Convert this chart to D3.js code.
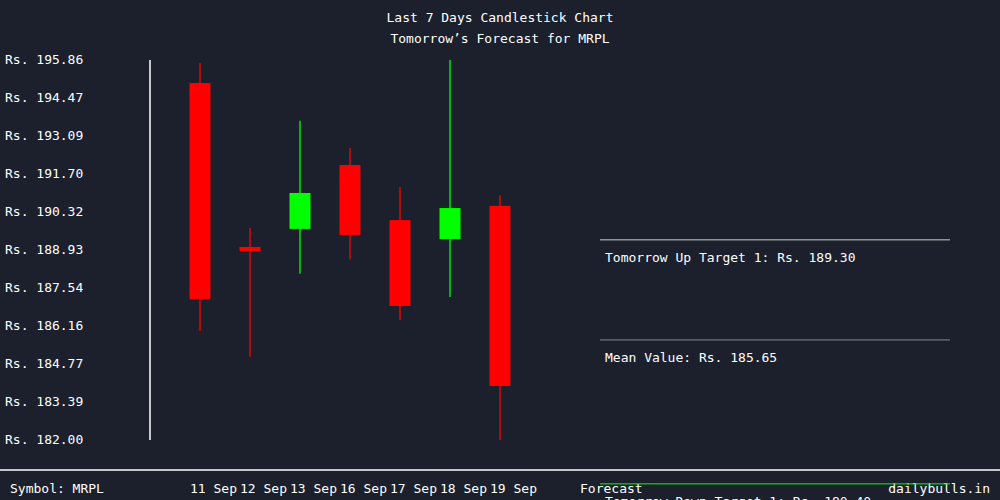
<!DOCTYPE html>
<html>
<head>
<meta charset="utf-8">
<script src="https://cdn.jsdelivr.net/npm/d3@7"></script>
<style>
  body { margin: 0; background: #1b202c; }
  text { font-family: "DejaVu Sans Mono", monospace; font-size: 13px; fill: #fff; }
</style>
</head>
<body>
<svg width="1000" height="500"></svg>
<script>
const dates = ["11 Sep", "12 Sep", "13 Sep", "16 Sep", "17 Sep", "18 Sep", "19 Sep"];
const opens = [195.02, 189.04, 189.70, 192.03, 190.02, 189.33, 190.54];
const closes = [187.14, 188.89, 191.01, 189.48, 186.89, 190.46, 183.97];
const highs = [195.75, 189.73, 193.64, 192.65, 191.23, 195.86, 190.94];
const lows = [185.98, 185.03, 188.06, 188.57, 186.38, 187.22, 182.00];
const yTicks = [182.00, 183.39, 184.77, 186.16, 187.54, 188.93, 190.32, 191.70, 193.09, 194.47, 195.86];
const forecastLabels = ["Tomorrow Up Target 1", "Mean Value", "Tomorrow Down Target 1"];
const forecastValues = [189.30, 185.65, 180.40];
const forecastColors = ["#cccccc", "#888888", "#00ff00"];

const svg = d3.select("svg");
const y = d3.scaleLinear().domain([182.00, 195.86]).range([440, 60]);
const x = d3.scaleBand().domain(dates.concat(["Forecast"])).range([175, 575]).paddingInner(0.58).paddingOuter(0.29);
const bw = 21;

svg.append("text").attr("x", 500).attr("y", 22).attr("text-anchor", "middle").text("Last 7 Days Candlestick Chart");
svg.append("text").attr("x", 500).attr("y", 43).attr("text-anchor", "middle").text("Tomorrow\u2019s Forecast for MRPL");

svg.append("line").attr("x1", 150).attr("x2", 150).attr("y1", 60).attr("y2", 440).attr("stroke", "#fff").attr("stroke-width", 1.5);
svg.selectAll(".yt").data(yTicks).enter().append("text")
  .attr("x", 5).attr("y", d => y(d) + 4).text(d => "Rs. " + d.toFixed(2));

const cx = i => 200 + i * 50;
const data = dates.map((d, i) => ({d, o: opens[i], c: closes[i], h: highs[i], l: lows[i], i}));
const col = d => d.c >= d.o ? "#00ff00" : "#ff0000";

svg.selectAll(".wick").data(data).enter().append("line")
  .attr("x1", d => cx(d.i)).attr("x2", d => cx(d.i))
  .attr("y1", d => y(d.h)).attr("y2", d => y(d.l))
  .attr("stroke", col).attr("stroke-width", 1.3);
svg.selectAll(".body").data(data).enter().append("rect")
  .attr("x", d => cx(d.i) - bw / 2).attr("width", bw)
  .attr("y", d => y(Math.max(d.o, d.c)))
  .attr("height", d => Math.max(4, Math.abs(y(d.o) - y(d.c))))
  .attr("fill", col);

svg.append("line").attr("x1", 0).attr("x2", 1000).attr("y1", 470).attr("y2", 470).attr("stroke", "#fff").attr("stroke-width", 1.5);
svg.append("text").attr("x", 10).attr("y", 493).text("Symbol: MRPL");
svg.selectAll(".xl").data(dates).enter().append("text")
  .attr("x", (d, i) => cx(i) - 10).attr("y", 493).text(d => d);
svg.append("text").attr("x", 580).attr("y", 493).text("Forecast");
svg.append("text").attr("x", 990).attr("y", 493).attr("text-anchor", "end").text("dailybulls.in");

forecastValues.forEach((v, i) => {
  svg.append("line").attr("x1", 600).attr("x2", 950).attr("y1", y(v)).attr("y2", y(v))
    .attr("stroke", forecastColors[i]).attr("stroke-width", 1);
  svg.append("text").attr("x", 605).attr("y", y(v) + 22)
    .text(forecastLabels[i] + ": Rs. " + v.toFixed(2));
});
</script>
</body>
</html>
